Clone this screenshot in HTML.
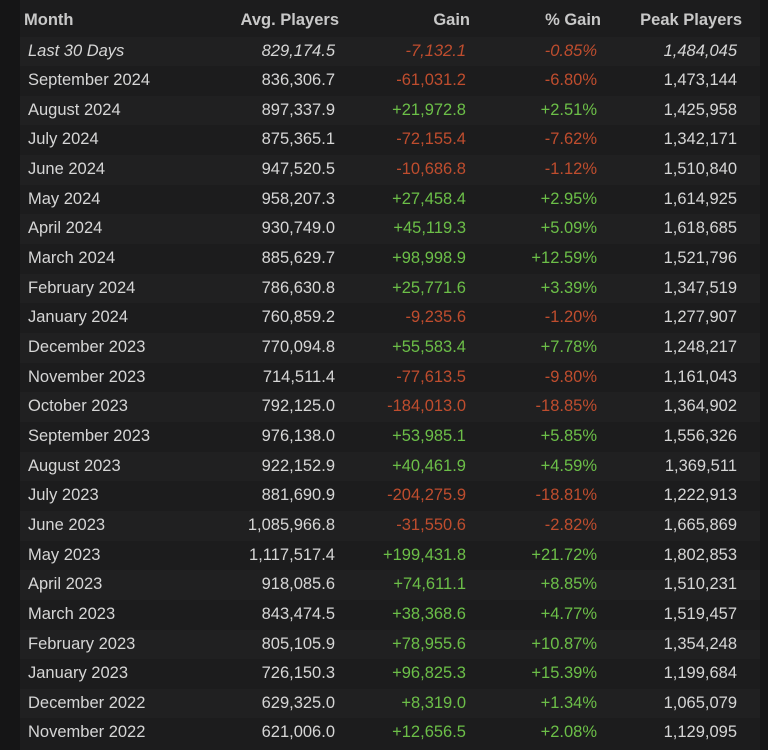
<!DOCTYPE html>
<html><head><meta charset="utf-8"><style>
body{margin:0;width:768px;height:750px;background:#151516;overflow:hidden;font-family:"Liberation Sans",Arial,sans-serif;}
#t{position:absolute;left:20px;top:0;width:740px;height:750px;background:#1c1c1d;}
.r{position:absolute;left:20px;width:740px;height:29.65px;line-height:29.65px;font-size:16.5px;color:#d6d6d6;}
.r.o{background:#202021;}
.r span{position:absolute;white-space:nowrap;}
.m{left:8px}.a{right:425px}.g{right:294px}.p{right:163px}.k{right:23px}
.h{font-weight:bold;color:#c8c8c8;font-size:16.5px}
.h .m{left:4px}.h .a{right:421px}.h .g{right:290px}.h .p{right:159px}.h .k{right:18px}
.i{font-style:italic}
.n{color:#bf4d2e}.y{color:#6cbf48}
</style></head><body><div id="t"></div>
<div class="r h" style="top:5.5px"><span class="m">Month</span><span class="a">Avg. Players</span><span class="g">Gain</span><span class="p">% Gain</span><span class="k">Peak Players</span></div>
<div id="rows"></div>
<script>
var d=[["Last 30 Days","829,174.5","-7,132.1","-0.85%","1,484,045"],
["September 2024","836,306.7","-61,031.2","-6.80%","1,473,144"],
["August 2024","897,337.9","+21,972.8","+2.51%","1,425,958"],
["July 2024","875,365.1","-72,155.4","-7.62%","1,342,171"],
["June 2024","947,520.5","-10,686.8","-1.12%","1,510,840"],
["May 2024","958,207.3","+27,458.4","+2.95%","1,614,925"],
["April 2024","930,749.0","+45,119.3","+5.09%","1,618,685"],
["March 2024","885,629.7","+98,998.9","+12.59%","1,521,796"],
["February 2024","786,630.8","+25,771.6","+3.39%","1,347,519"],
["January 2024","760,859.2","-9,235.6","-1.20%","1,277,907"],
["December 2023","770,094.8","+55,583.4","+7.78%","1,248,217"],
["November 2023","714,511.4","-77,613.5","-9.80%","1,161,043"],
["October 2023","792,125.0","-184,013.0","-18.85%","1,364,902"],
["September 2023","976,138.0","+53,985.1","+5.85%","1,556,326"],
["August 2023","922,152.9","+40,461.9","+4.59%","1,369,511"],
["July 2023","881,690.9","-204,275.9","-18.81%","1,222,913"],
["June 2023","1,085,966.8","-31,550.6","-2.82%","1,665,869"],
["May 2023","1,117,517.4","+199,431.8","+21.72%","1,802,853"],
["April 2023","918,085.6","+74,611.1","+8.85%","1,510,231"],
["March 2023","843,474.5","+38,368.6","+4.77%","1,519,457"],
["February 2023","805,105.9","+78,955.6","+10.87%","1,354,248"],
["January 2023","726,150.3","+96,825.3","+15.39%","1,199,684"],
["December 2022","629,325.0","+8,319.0","+1.34%","1,065,079"],
["November 2022","621,006.0","+12,656.5","+2.08%","1,129,095"]];
var h="";
d.forEach(function(r,i){var c=r[2][0]=="-"?"n":"y";
h+='<div class="r'+(i%2?'':' o')+(i==0?' i':'')+'" style="top:'+(36.5+i*29.65)+'px"><span class="m">'+r[0]+'</span><span class="a">'+r[1]+'</span><span class="g '+c+'">'+r[2]+'</span><span class="p '+c+'">'+r[3]+'</span><span class="k">'+r[4]+'</span></div>';});
document.getElementById("rows").innerHTML=h;
</script></body></html>
